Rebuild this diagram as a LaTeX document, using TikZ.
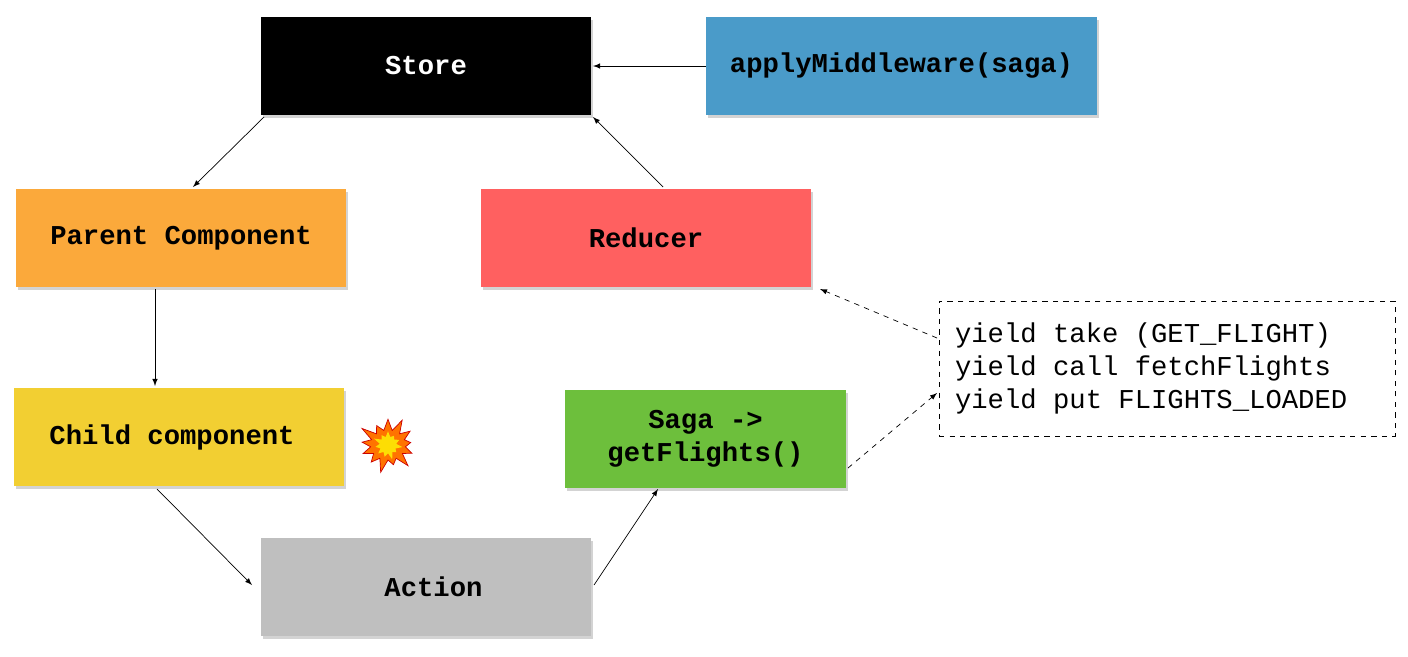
\documentclass[tikz,border=0pt]{standalone}
\usepackage{fontspec}
\setmonofont{Liberation Mono}[WordSpace={1,0,0}]
\usetikzlibrary{shadows,shapes.symbols}
\definecolor{storeblk}{HTML}{000000}
\definecolor{midblue}{HTML}{4A9BC9}
\definecolor{parorange}{HTML}{FBA93B}
\definecolor{redred}{HTML}{FF6060}
\definecolor{childyel}{HTML}{F2CF32}
\definecolor{sagagrn}{HTML}{6DBF3C}
\definecolor{actgray}{HTML}{BFBFBF}
\tikzset{
  box/.style={rectangle,minimum width=6.6cm,minimum height=1.96cm,
    inner sep=0pt,align=center,drop shadow={opacity=0.35,shadow xshift=0.04cm,shadow yshift=-0.06cm},
    font=\ttfamily\bfseries\fontsize{15.5}{19}\selectfont},
  link/.style={->,>=latex,thin},
}
\begin{document}
\begin{tikzpicture}[x=0.02cm,y=-0.02cm]
\useasboundingbox (0,0) rectangle (1408,656);
\node (store) at (426,66) [box,fill=storeblk,text=white] {Store};
\node (apply) at (901.5,66) [box,fill=midblue,minimum width=7.82cm] {applyMiddleware(saga)};
\node (parent) at (181,238) [box,fill=parorange] {Parent Component};
\node (reducer) at (646,238) [box,fill=redred] {Reducer};
\node (child) at (179,437) [box,fill=childyel] {Child component\hspace*{0.28cm}};
\node (saga) at (705.5,438.5) [box,fill=sagagrn,minimum width=5.62cm] {Saga ->\\getFlights()};
\node (action) at (426,587) [box,fill=actgray] {\hspace*{0.3cm}Action};
\node (effects) at (1167,368.5) [draw,dashed,rectangle,minimum height=2.7cm,
  text width=9.12cm-0.64cm,inner xsep=0.32cm,
  align=left,font=\ttfamily\fontsize{15.5}{19}\selectfont]
  {\spaceskip=0.6em\relax yield take (GET\_FLIGHT)\\yield call fetchFlights\\yield put FLIGHTS\_LOADED};
\node (boom) at (388,445) [starburst,starburst points=13,starburst point height=0.3cm,
  minimum width=1.3cm,minimum height=1.2cm,fill=orange!90!red,draw=red!80!black] {};
\node at (boom) [starburst,starburst points=11,starburst point height=0.15cm,
  minimum width=0.6cm,minimum height=0.5cm,fill=yellow!80!orange] {};
\coordinate (store-bl) at (264,117);
\coordinate (parent-t) at (193,187);
\coordinate (reducer-t) at (663,187);
\coordinate (store-br) at (593,117);
\coordinate (parent-b) at (155,289);
\coordinate (child-t) at (155,386);
\coordinate (child-b) at (157,489);
\coordinate (action-l) at (252,585);
\coordinate (action-r) at (594,585);
\coordinate (saga-b) at (658,489);
\coordinate (saga-r) at (848,468);
\coordinate (eff-bl) at (937,393);
\coordinate (eff-tl) at (937,338);
\coordinate (reducer-br) at (820,289);
\draw [link] (store-bl) -- (parent-t);
\draw [link] (apply) -- (store-br |- apply);
\draw [link] (reducer-t) -- (store-br);
\draw [link] (parent-b) -- (child-t);
\draw [link] (child-b) -- (action-l);
\draw [link] (action-r) -- (saga-b);
\draw [link,dashed] (saga-r) -- (eff-bl);
\draw [link,dashed] (eff-tl) -- (reducer-br);
\end{tikzpicture}
\end{document}
